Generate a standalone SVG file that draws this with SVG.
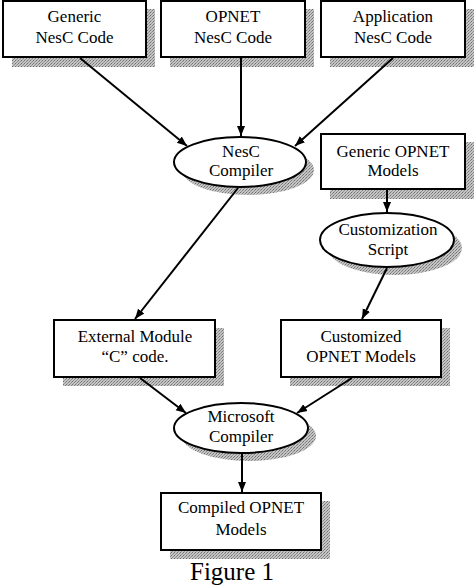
<svg xmlns="http://www.w3.org/2000/svg" width="474" height="586" viewBox="0 0 474 586">
<defs>
<pattern id="dith" width="3" height="3" patternUnits="userSpaceOnUse">
<rect width="3" height="3" fill="#c4c4c4"/>
<rect x="0" y="0" width="1" height="1" fill="#707070"/>
<rect x="2" y="1" width="1" height="1" fill="#858585"/>
<rect x="1" y="2" width="1" height="1" fill="#959595"/>
</pattern>
<marker id="ah" viewBox="0 0 10 10" refX="10" refY="5" markerWidth="5" markerHeight="5" orient="auto" markerUnits="strokeWidth">
<path d="M0,1 L10,5 L0,9 z" fill="#000"/>
</marker>
</defs>
<style>
.box{fill:#fff;stroke:#000;stroke-width:2}
.sh{fill:url(#dith)}
text{font-family:'Liberation Serif','Times New Roman',serif;fill:#000}
.t{font-size:17px;text-anchor:middle}
.c{stroke:#000;stroke-width:2;fill:none;marker-end:url(#ah)}
</style>
<g font-family="'Liberation Serif', serif">
<g id="n1"><rect class="sh" x="12" y="9" width="143" height="58"/><rect class="box" x="3" y="1" width="143" height="56"/><text class="t" x="74.5" y="22">Generic</text><text class="t" x="74.5" y="43">NesC Code</text></g>
<g id="n2"><rect class="sh" x="170" y="9" width="144" height="58"/><rect class="box" x="161" y="1" width="144" height="56"/><text class="t" x="233" y="22">OPNET</text><text class="t" x="233" y="43">NesC Code</text></g>
<g id="n3"><rect class="sh" x="330" y="9" width="144" height="58"/><rect class="box" x="321" y="1" width="144" height="56"/><text class="t" x="393" y="22">Application</text><text class="t" x="393" y="43">NesC Code</text></g>
<g id="n4"><ellipse class="sh" cx="248" cy="170" rx="66" ry="25"/><ellipse class="box" cx="240" cy="162" rx="66" ry="25"/><text class="t" x="241" y="157">NesC</text><text class="t" x="241" y="176">Compiler</text></g>
<g id="n5"><rect class="sh" x="330" y="142" width="144" height="57"/><rect class="box" x="321" y="134" width="144" height="55"/><text class="t" x="393" y="157">Generic OPNET</text><text class="t" x="393" y="176">Models</text></g>
<g id="n6"><ellipse class="sh" cx="395" cy="248" rx="67" ry="27"/><ellipse class="box" cx="387" cy="240" rx="67" ry="27"/><text class="t" x="388" y="235">Customization</text><text class="t" x="388" y="255">Script</text></g>
<g id="n7"><rect class="sh" x="63" y="328" width="161" height="58"/><rect class="box" x="54" y="320" width="161" height="57"/><text class="t" x="135" y="342">External Module</text><text class="t" x="135" y="362">“C” code.</text></g>
<g id="n8"><rect class="sh" x="290" y="328" width="160" height="58"/><rect class="box" x="281" y="320" width="160" height="57"/><text class="t" x="361" y="342">Customized</text><text class="t" x="361" y="362">OPNET Models</text></g>
<g id="n9"><ellipse class="sh" cx="249" cy="436" rx="67" ry="25"/><ellipse class="box" cx="241" cy="428" rx="67" ry="25"/><text class="t" x="241" y="422">Microsoft</text><text class="t" x="241" y="442">Compiler</text></g>
<g id="n10"><rect class="sh" x="170" y="501" width="160" height="58"/><rect class="box" x="161" y="493" width="160" height="57"/><text class="t" x="241" y="513">Compiled OPNET</text><text class="t" x="241" y="535">Models</text></g>
<text x="190" y="580" font-size="25">Figure 1</text>
</g>
<g id="connectors">
<line class="c" x1="80" y1="58" x2="187" y2="146"/>
<line class="c" x1="241" y1="58" x2="241" y2="136"/>
<line class="c" x1="393" y1="58" x2="295" y2="146"/>
<line class="c" x1="238" y1="188" x2="135" y2="319"/>
<line class="c" x1="387" y1="190" x2="387" y2="212"/>
<line class="c" x1="387" y1="268" x2="362" y2="319"/>
<line class="c" x1="140" y1="378" x2="186" y2="413"/>
<line class="c" x1="352" y1="378" x2="297" y2="413"/>
<line class="c" x1="242" y1="454" x2="242" y2="492"/>
</g>
</svg>
